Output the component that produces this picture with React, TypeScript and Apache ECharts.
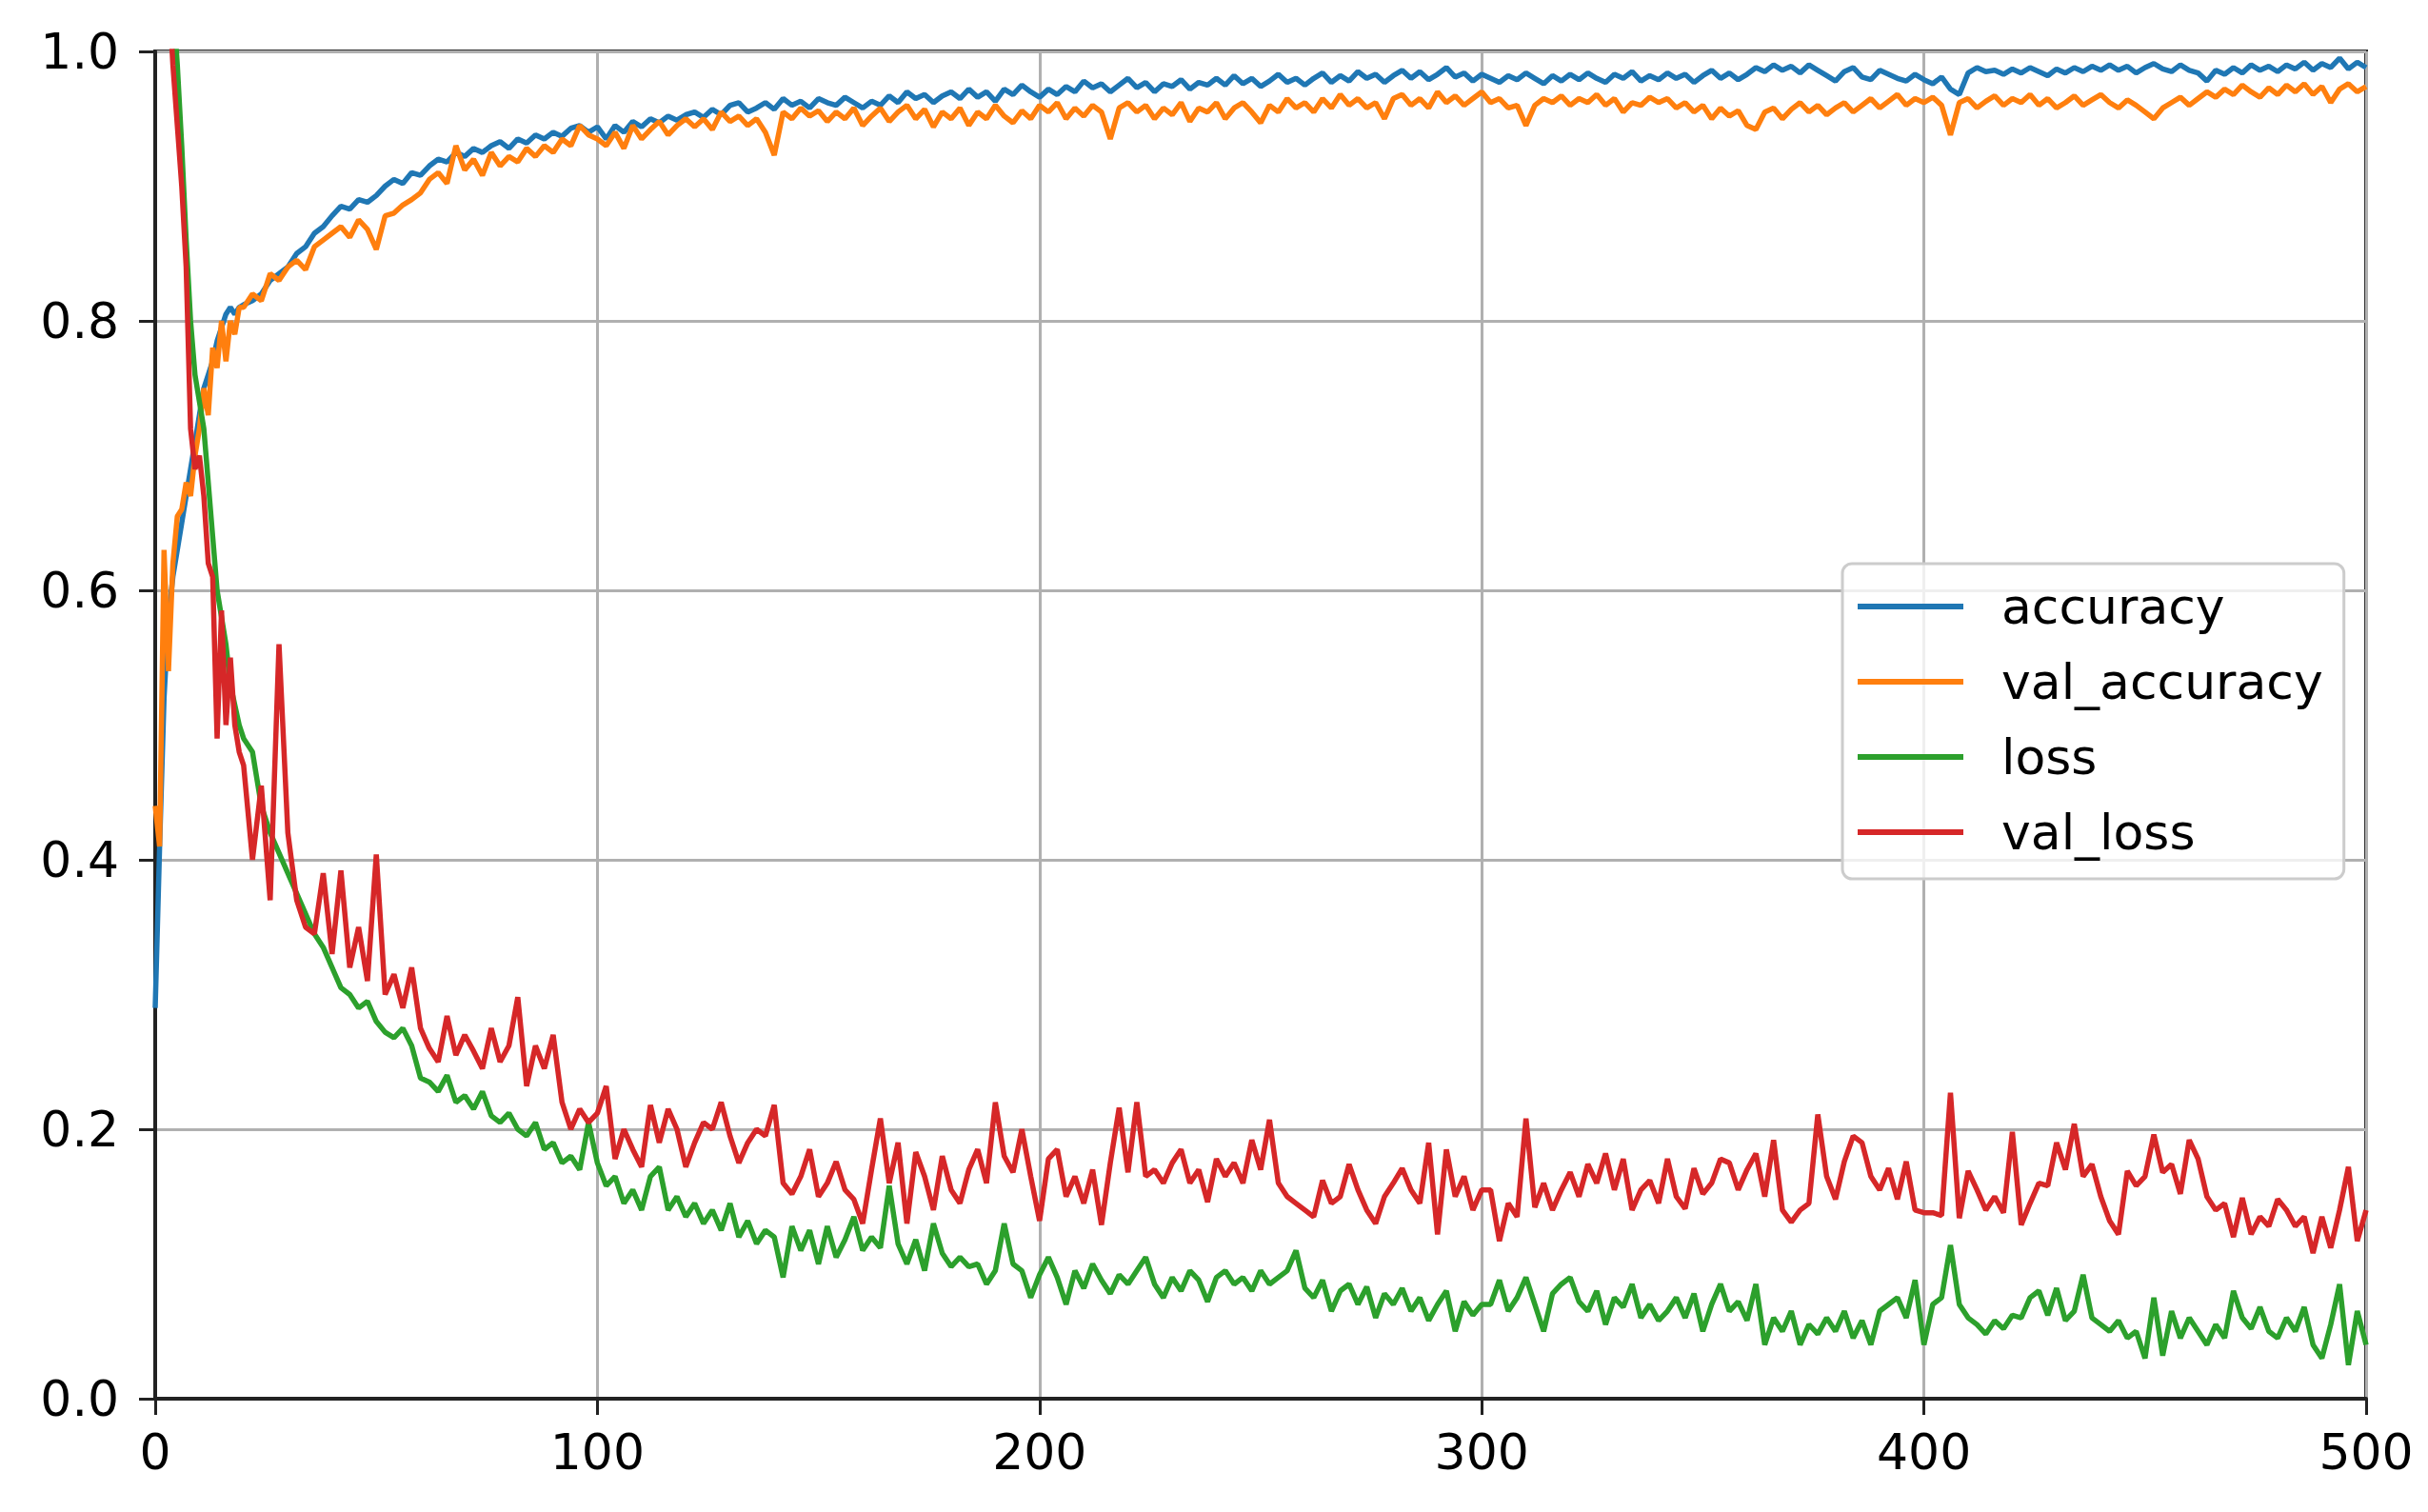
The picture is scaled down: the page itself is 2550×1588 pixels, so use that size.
import React, { useEffect, useRef } from "react";
import * as echarts from "echarts";

const EARLY_EPOCHS = [0, 1, 2, 3, 4, 5, 6, 7, 8, 9, 10, 11, 12, 13, 14, 15, 16, 17, 18, 19, 20];
const LATE_EPOCHS = Array.from({ length: 240 }, (_, i) => 22 + 2 * i);
const epochs = [...EARLY_EPOCHS, ...LATE_EPOCHS];

const X_TICKS = [0, 100, 200, 300, 400, 500];
const Y_TICKS = [0, 0.2, 0.4, 0.6, 0.8, 1.0];

const accuracy = [
  0.29, 0.41, 0.52, 0.58, 0.61, 0.63, 0.65, 0.67, 0.69, 0.71, 0.73, 0.75, 0.76, 0.77, 0.785, 0.795, 0.805, 0.81, 0.805, 0.81, 0.812,
  0.815, 0.82, 0.83, 0.835, 0.84, 0.85, 0.855, 0.865, 0.87, 0.878,
  0.885, 0.883, 0.89, 0.888, 0.893, 0.9, 0.905, 0.902, 0.91, 0.908,
  0.915, 0.92, 0.918, 0.925, 0.922, 0.928, 0.925, 0.93, 0.933, 0.928,
  0.935, 0.932, 0.938, 0.935, 0.94, 0.937, 0.943, 0.945, 0.94, 0.944,
  0.935, 0.945, 0.94, 0.948, 0.944, 0.95, 0.947, 0.952, 0.949, 0.953,
  0.955, 0.951, 0.957, 0.953, 0.96, 0.962, 0.955, 0.958, 0.962, 0.957,
  0.965, 0.96, 0.963, 0.958, 0.965, 0.962, 0.96, 0.966, 0.962, 0.958,
  0.963, 0.96, 0.967, 0.962, 0.97, 0.965, 0.968, 0.962, 0.967, 0.97,
  0.965, 0.972, 0.966, 0.97, 0.963, 0.972, 0.968, 0.975, 0.97, 0.966,
  0.972, 0.968, 0.974, 0.97, 0.978, 0.973, 0.976, 0.97, 0.975, 0.98,
  0.973, 0.977, 0.97, 0.976, 0.974, 0.979, 0.972, 0.977, 0.975, 0.98,
  0.975, 0.982, 0.976, 0.98, 0.974, 0.978, 0.983, 0.977, 0.98, 0.975,
  0.98, 0.984, 0.977, 0.982, 0.978, 0.985, 0.98, 0.983, 0.977, 0.982,
  0.986, 0.98, 0.985, 0.979, 0.983, 0.988, 0.981, 0.984, 0.978, 0.983,
  0.98, 0.977, 0.982, 0.979, 0.984, 0.98, 0.976, 0.982, 0.978, 0.983,
  0.979, 0.984, 0.98, 0.977, 0.983, 0.98, 0.985, 0.978, 0.982, 0.979,
  0.984, 0.98, 0.983, 0.977, 0.982, 0.986, 0.98, 0.984, 0.979, 0.983,
  0.988, 0.985, 0.99, 0.986, 0.989, 0.984, 0.99, 0.986, 0.982, 0.978,
  0.985, 0.988, 0.981, 0.979, 0.986, 0.983, 0.98, 0.978, 0.983, 0.979,
  0.976, 0.981, 0.972, 0.968, 0.984, 0.988, 0.985, 0.986, 0.983, 0.987,
  0.984, 0.988, 0.985, 0.982, 0.987, 0.984, 0.988, 0.985, 0.989, 0.986,
  0.99, 0.986, 0.989, 0.984, 0.988, 0.991, 0.987, 0.985, 0.99, 0.986,
  0.984, 0.978, 0.986, 0.983, 0.988, 0.984, 0.99, 0.986, 0.989, 0.985,
  0.99, 0.987, 0.992, 0.986, 0.991, 0.988, 0.995, 0.987, 0.992, 0.988,
];

const valAccuracy = [
  0.44, 0.41, 0.63, 0.54, 0.62, 0.655, 0.66, 0.68, 0.67, 0.7, 0.72, 0.75, 0.73, 0.78, 0.765, 0.8, 0.77, 0.8, 0.79, 0.81, 0.81,
  0.82, 0.815, 0.835, 0.83, 0.84, 0.845, 0.838, 0.855, 0.86, 0.865,
  0.87, 0.862, 0.875, 0.868, 0.853, 0.878, 0.88, 0.886, 0.89, 0.895,
  0.905, 0.91, 0.902, 0.93, 0.912, 0.92, 0.908, 0.925, 0.915, 0.922,
  0.918, 0.928, 0.922, 0.93, 0.925, 0.935, 0.93, 0.945, 0.938, 0.935,
  0.93, 0.94, 0.928, 0.945, 0.935, 0.942, 0.948, 0.938, 0.945, 0.95,
  0.944, 0.95, 0.942, 0.955, 0.948, 0.952, 0.945, 0.95, 0.94, 0.923,
  0.955, 0.95, 0.958, 0.952, 0.956, 0.948, 0.955, 0.95, 0.958, 0.945,
  0.952, 0.958, 0.948, 0.955, 0.96, 0.95, 0.957, 0.944, 0.955, 0.95,
  0.958, 0.945, 0.955, 0.95, 0.96, 0.952, 0.947, 0.956, 0.95, 0.96,
  0.955, 0.962, 0.95, 0.958, 0.952, 0.96, 0.955, 0.935, 0.958, 0.962,
  0.955, 0.96, 0.95, 0.958, 0.953, 0.962, 0.948, 0.958, 0.955, 0.962,
  0.95, 0.958, 0.962, 0.955, 0.947, 0.96, 0.955, 0.965, 0.958, 0.962,
  0.955, 0.965, 0.958, 0.968, 0.96, 0.965, 0.958, 0.962, 0.95, 0.965,
  0.968, 0.96, 0.965, 0.958, 0.97, 0.962, 0.967, 0.96, 0.965, 0.97,
  0.962, 0.965, 0.958, 0.96, 0.945, 0.96, 0.965, 0.962, 0.967, 0.96,
  0.965, 0.962, 0.968, 0.96, 0.965, 0.955, 0.962, 0.96, 0.966, 0.962,
  0.965, 0.958, 0.962, 0.955, 0.96, 0.95, 0.958, 0.952, 0.956, 0.945,
  0.942, 0.955, 0.958, 0.95, 0.957, 0.962, 0.955, 0.96, 0.953, 0.958,
  0.962, 0.955, 0.96, 0.965, 0.958, 0.963, 0.968, 0.96, 0.965, 0.962,
  0.966, 0.96, 0.938, 0.962, 0.965, 0.958, 0.963, 0.967, 0.96, 0.965,
  0.962, 0.968, 0.96, 0.965, 0.958, 0.962, 0.967, 0.96, 0.964, 0.968,
  0.962, 0.958, 0.964, 0.96, 0.955, 0.95, 0.958, 0.962, 0.966, 0.96,
  0.965, 0.97, 0.966, 0.972, 0.968, 0.975, 0.97, 0.966, 0.973, 0.968,
  0.975, 0.97, 0.976, 0.968, 0.974, 0.962, 0.972, 0.976, 0.97, 0.974,
];

const loss = [
  1.9, 1.5, 1.25, 1.12, 1.04, 0.99, 0.93, 0.86, 0.8, 0.76, 0.74, 0.72, 0.68, 0.64, 0.6, 0.58, 0.56, 0.53, 0.515, 0.5, 0.49,
  0.48, 0.44, 0.42, 0.405, 0.39, 0.375, 0.36, 0.345, 0.335, 0.32,
  0.305, 0.3, 0.29, 0.295, 0.28, 0.272, 0.268, 0.275, 0.262, 0.238,
  0.235, 0.228, 0.24, 0.22, 0.225, 0.215, 0.228, 0.21, 0.205, 0.212,
  0.2, 0.195, 0.205, 0.185, 0.19, 0.175, 0.18, 0.17, 0.205, 0.175,
  0.158, 0.165, 0.145, 0.155, 0.14, 0.165, 0.172, 0.14, 0.15, 0.135,
  0.145, 0.13, 0.14, 0.125, 0.145, 0.12, 0.132, 0.115, 0.125, 0.12,
  0.09, 0.128, 0.11, 0.125, 0.1, 0.128, 0.105, 0.118, 0.135, 0.11,
  0.12, 0.112, 0.158, 0.115, 0.1, 0.118, 0.095, 0.13, 0.108, 0.098,
  0.105, 0.098, 0.1, 0.085, 0.095, 0.13, 0.1, 0.095, 0.075, 0.092,
  0.105, 0.09, 0.07, 0.095, 0.082, 0.1, 0.088, 0.078, 0.092, 0.085,
  0.095, 0.105, 0.085, 0.075, 0.09, 0.08, 0.095, 0.088, 0.072, 0.09,
  0.095, 0.085, 0.09, 0.08, 0.095, 0.085, 0.09, 0.095, 0.11, 0.082,
  0.075, 0.088, 0.065, 0.08, 0.085, 0.07, 0.083, 0.06, 0.078, 0.07,
  0.082, 0.065, 0.075, 0.058, 0.07, 0.08, 0.05, 0.072, 0.062, 0.07,
  0.07, 0.088, 0.065, 0.075, 0.09, 0.07, 0.05, 0.078, 0.085, 0.09,
  0.072, 0.065, 0.08, 0.055, 0.075, 0.068, 0.085, 0.06, 0.07, 0.058,
  0.065, 0.075, 0.06, 0.078, 0.05, 0.07, 0.085, 0.065, 0.072, 0.058,
  0.085, 0.04, 0.06, 0.05, 0.065, 0.04, 0.055, 0.048, 0.06, 0.05,
  0.065, 0.045, 0.058, 0.04, 0.065, 0.07, 0.075, 0.06, 0.088, 0.04,
  0.07, 0.075, 0.114, 0.07, 0.06, 0.055, 0.048, 0.058, 0.052, 0.062,
  0.06, 0.075, 0.08, 0.062, 0.082, 0.058, 0.065, 0.092, 0.06, 0.055,
  0.05, 0.058, 0.045, 0.05, 0.03, 0.075, 0.032, 0.065, 0.045, 0.06,
  0.05, 0.04, 0.055, 0.045, 0.08, 0.06, 0.052, 0.068, 0.05, 0.045,
  0.06, 0.05, 0.068, 0.04, 0.03, 0.055, 0.085, 0.025, 0.065, 0.04,
];

const valLoss = [
  2.2, 1.8, 1.4, 1.05, 0.99, 0.945, 0.9, 0.84, 0.72, 0.69, 0.7, 0.67, 0.62, 0.61, 0.49, 0.585, 0.5, 0.55, 0.5, 0.48, 0.47,
  0.4, 0.455, 0.37, 0.56, 0.42, 0.37, 0.35, 0.345, 0.39, 0.33,
  0.392, 0.32, 0.35, 0.31, 0.404, 0.3, 0.315, 0.29, 0.32, 0.275,
  0.26, 0.25, 0.284, 0.255, 0.27, 0.258, 0.245, 0.275, 0.25, 0.262,
  0.298, 0.232, 0.262, 0.245, 0.27, 0.22, 0.2, 0.215, 0.205, 0.212,
  0.232, 0.178, 0.2, 0.185, 0.172, 0.218, 0.19, 0.215, 0.2, 0.172,
  0.19, 0.205, 0.2, 0.22, 0.195, 0.175, 0.19, 0.2, 0.195, 0.218,
  0.16, 0.152, 0.165, 0.185, 0.15, 0.16, 0.176, 0.155, 0.148, 0.13,
  0.17, 0.208, 0.16, 0.19, 0.13, 0.183, 0.165, 0.14, 0.18, 0.155,
  0.145, 0.17, 0.185, 0.16, 0.22, 0.18, 0.168, 0.2, 0.165, 0.132,
  0.178, 0.185, 0.15, 0.165, 0.145, 0.17, 0.129, 0.175, 0.216, 0.168,
  0.22, 0.165, 0.17, 0.16, 0.175, 0.185, 0.16, 0.17, 0.146, 0.178,
  0.165, 0.175, 0.16, 0.192, 0.17, 0.207, 0.16, 0.15, 0.145, 0.14,
  0.135, 0.162, 0.145, 0.15, 0.174, 0.155, 0.14, 0.13, 0.15, 0.16,
  0.171, 0.155, 0.145, 0.19, 0.122, 0.185, 0.15, 0.165, 0.14, 0.155,
  0.155, 0.117, 0.145, 0.135, 0.208, 0.142, 0.16, 0.14, 0.155, 0.168,
  0.15, 0.174, 0.16, 0.182, 0.155, 0.178, 0.14, 0.155, 0.162, 0.145,
  0.178, 0.15, 0.141, 0.171, 0.152, 0.16, 0.178, 0.175, 0.155, 0.17,
  0.182, 0.15, 0.192, 0.14, 0.131, 0.14, 0.145, 0.211, 0.165, 0.148,
  0.176, 0.195, 0.19, 0.165, 0.155, 0.171, 0.148, 0.176, 0.14, 0.138,
  0.138, 0.136, 0.227, 0.134, 0.169, 0.155, 0.14, 0.15, 0.138, 0.198,
  0.129, 0.145, 0.16, 0.158, 0.19, 0.17, 0.204, 0.165, 0.174, 0.15,
  0.132, 0.122, 0.169, 0.158, 0.165, 0.196, 0.168, 0.174, 0.152, 0.192,
  0.178, 0.15, 0.14, 0.145, 0.12, 0.149, 0.122, 0.135, 0.128, 0.148,
  0.14, 0.128, 0.135, 0.108, 0.135, 0.112, 0.14, 0.172, 0.117, 0.14,
];

const SERIES_NAMES = ["accuracy", "val_accuracy", "loss", "val_loss"];
const SERIES_COLORS = ["#1f77b4", "#ff7f0e", "#2ca02c", "#d62728"];
const SERIES_VALUES = [accuracy, valAccuracy, loss, valLoss];

const FONT = "DejaVu Sans";

export default function App() {
  const ref = useRef<HTMLDivElement>(null);

  useEffect(() => {
    if (!ref.current) return;
    const chart = echarts.init(ref.current, undefined, { renderer: "svg" });
    const option = {
      animation: false,
      backgroundColor: "#ffffff",
      grid: {
        left: 163,
        right: 65,
        top: 54,
        bottom: 119,
        show: true,
        borderColor: "#333333",
        borderWidth: 4,
        backgroundColor: "transparent",
      },
      legend: {
        orient: "vertical",
        left: 1935,
        top: 592,
        padding: [18, 22, 22, 16],
        itemGap: 25,
        itemWidth: 111,
        itemHeight: 6,
        icon: "rect",
        selectedMode: false,
        backgroundColor: "rgba(255,255,255,0.8)",
        borderColor: "#cccccc",
        borderWidth: 3,
        borderRadius: 10,
        textStyle: {
          fontFamily: FONT,
          fontSize: 52,
          color: "#000000",
          lineHeight: 54,
          padding: [0, 0, 0, 35],
        },
        data: SERIES_NAMES,
      },
      xAxis: {
        type: "value",
        min: X_TICKS[0],
        max: X_TICKS[X_TICKS.length - 1],
        interval: 100,
        axisLine: { show: true, lineStyle: { color: "#222222", width: 4 } },
        axisTick: { show: true, length: 17, lineStyle: { color: "#222222", width: 3 } },
        axisLabel: { fontFamily: FONT, fontSize: 52, color: "#000000", margin: 30 },
        splitLine: { show: true, lineStyle: { color: "#b0b0b0", width: 3 } },
      },
      yAxis: {
        type: "value",
        min: Y_TICKS[0],
        max: Y_TICKS[Y_TICKS.length - 1],
        interval: 0.2,
        axisLine: { show: true, lineStyle: { color: "#222222", width: 4 } },
        axisTick: { show: true, length: 17, lineStyle: { color: "#222222", width: 3 } },
        axisLabel: {
          fontFamily: FONT,
          fontSize: 52,
          color: "#000000",
          margin: 38,
          formatter: (v: number) => v.toFixed(1),
        },
        splitLine: { show: true, lineStyle: { color: "#b0b0b0", width: 3 } },
      },
      series: SERIES_NAMES.map((name, k) => ({
        name,
        type: "line",
        showSymbol: false,
        symbol: "none",
        clip: true,
        color: SERIES_COLORS[k],
        lineStyle: { color: SERIES_COLORS[k], width: 5.5 },
        data: epochs.map((e, i) => [e, SERIES_VALUES[k][i]]),
      })),
    };
    chart.setOption(option as any);
    return () => chart.dispose();
  }, []);

  return (
    <div
      ref={ref}
      style={{ position: "fixed", left: 0, top: 0, width: 2550, height: 1588, background: "#ffffff" }}
    />
  );
}
